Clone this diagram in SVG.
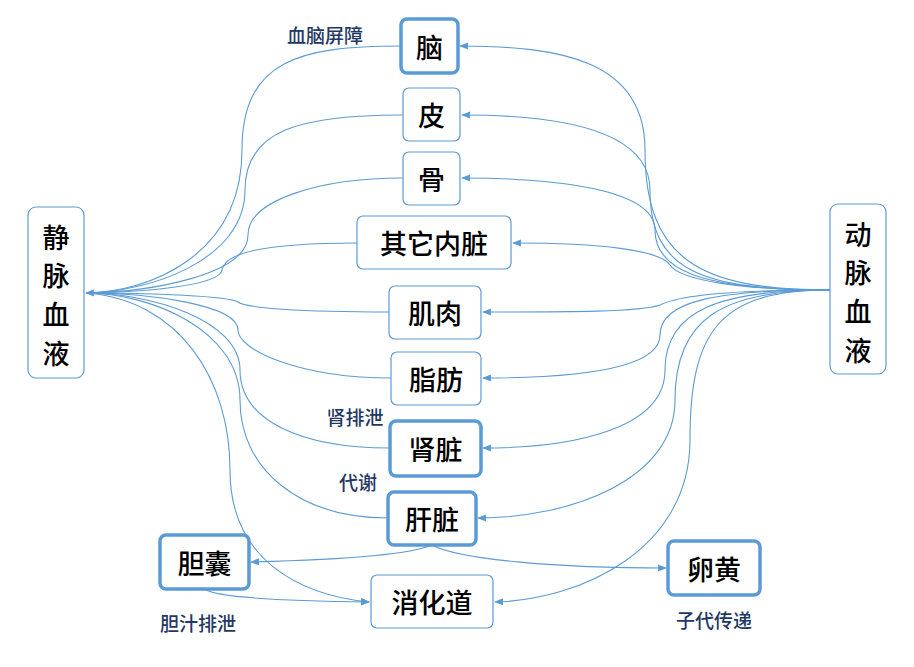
<svg xmlns="http://www.w3.org/2000/svg" width="914" height="667" viewBox="0 0 914 667">
<style>
.n rect{fill:#fff;stroke:#5b9bd5;stroke-width:1.2}
.t rect{stroke-width:3.5}
.n text{font-family:"Noto Sans CJK SC","Liberation Sans",sans-serif;font-size:27px;font-weight:500;fill:#000;text-anchor:middle;dominant-baseline:central}
.l{font-family:"Noto Sans CJK SC","Liberation Sans",sans-serif;font-size:19px;font-weight:500;fill:#1f3864;text-anchor:middle;dominant-baseline:central}
#c path{fill:none;stroke:#5b9bd5;stroke-width:1.1}
</style>
<defs><marker id="a" viewBox="0 0 10 10" refX="9" refY="5" markerWidth="8" markerHeight="8" orient="auto"><path d="M0,1L10,5L0,9z" fill="#5b9bd5"/></marker></defs>
<g id="c">
<path d="M401,46 C300,46 242,60 242,150 C242,255 150,292 86,293"/>
<path d="M403,115 C300,115 245,130 245,190 C245,260 150,292 86,293"/>
<path d="M403,178 C320,178 248,200 248,235 C248,275 150,292 86,293"/>
<path d="M357,243 C280,243 225,250 222,270 C220,285 150,292 86,293" marker-end="url(#a)"/>
<path d="M389,312 C300,312 245,308 238,302 C230,296 150,293 86,293"/>
<path d="M391,378 C300,378 238,350 238,330 C238,305 150,293 86,293"/>
<path d="M390,448 C300,448 240,420 240,370 C240,320 150,293 86,293"/>
<path d="M388,518 C300,518 240,470 240,400 C240,330 150,293 86,293"/>
<path d="M86,293 C180,300 230,380 230,470 C230,560 300,595 369,602" marker-end="url(#a)"/>
<path d="M830,290 C700,290 645,260 645,150 C645,60 560,46 460,46" marker-end="url(#a)"/>
<path d="M830,290 C700,290 650,270 650,190 C650,130 560,115 462,115" marker-end="url(#a)"/>
<path d="M830,290 C700,290 655,270 655,230 C655,190 560,178 462,178" marker-end="url(#a)"/>
<path d="M830,290 C740,290 680,280 670,265 C660,250 600,243 513,243" marker-end="url(#a)"/>
<path d="M830,290 C740,290 680,295 660,305 C640,312 570,312 483,312" marker-end="url(#a)"/>
<path d="M830,290 C720,290 660,300 660,335 C660,370 570,378 483,378" marker-end="url(#a)"/>
<path d="M830,290 C720,290 665,310 665,370 C665,430 570,448 483,448" marker-end="url(#a)"/>
<path d="M830,290 C720,290 675,320 675,400 C675,480 570,518 478,518" marker-end="url(#a)"/>
<path d="M830,290 C720,290 690,330 690,440 C690,550 580,600 495,602" marker-end="url(#a)"/>
<path d="M432,545 C410,555 330,560 251,562" marker-end="url(#a)"/>
<path d="M432,545 C460,560 560,568 666,568" marker-end="url(#a)"/>
<path d="M205,589 C215,598 290,601 369,602" marker-end="url(#a)"/>
</g>
<g id="jm" class="n"><rect x="28" y="207" width="56" height="171" rx="8"/><text x="56" y="236">静</text><text x="56" y="274">脉</text><text x="56" y="313">血</text><text x="56" y="352">液</text></g>
<g id="dm" class="n"><rect x="830" y="204" width="56" height="170" rx="8"/><text x="858" y="233">动</text><text x="858" y="271">脉</text><text x="858" y="310">血</text><text x="858" y="349">液</text></g>
<g id="nao" class="n t"><rect x="401" y="19" width="57" height="54" rx="6"/><text x="429.5" y="46">脑</text></g>
<g id="pi" class="n"><rect x="403" y="88" width="57" height="53" rx="6"/><text x="431.5" y="114.5">皮</text></g>
<g id="gu" class="n"><rect x="403" y="152" width="57" height="53" rx="6"/><text x="431.5" y="178.5">骨</text></g>
<g id="qt" class="n"><rect x="357" y="216" width="154" height="53" rx="6"/><text x="434" y="242.5">其它内脏</text></g>
<g id="jr" class="n"><rect x="389" y="286" width="92" height="53" rx="6"/><text x="435" y="312.5">肌肉</text></g>
<g id="zf" class="n"><rect x="391" y="352" width="90" height="53" rx="6"/><text x="436" y="378.5">脂肪</text></g>
<g id="sz" class="n t"><rect x="390" y="421" width="91" height="55" rx="6"/><text x="435.5" y="448.5">肾脏</text></g>
<g id="gz" class="n t"><rect x="388" y="492" width="88" height="53" rx="6"/><text x="432" y="518.5">肝脏</text></g>
<g id="dn" class="n t"><rect x="160" y="535" width="89" height="54" rx="6"/><text x="204.5" y="562">胆囊</text></g>
<g id="xhd" class="n"><rect x="371" y="575" width="122" height="53" rx="6"/><text x="432" y="601.5">消化道</text></g>
<g id="lh" class="n t"><rect x="668" y="541" width="92" height="54" rx="6"/><text x="714" y="568">卵黄</text></g>
<text class="l" x="325" y="34">血脑屏障</text>
<text class="l" x="355" y="416">肾排泄</text>
<text class="l" x="358" y="481">代谢</text>
<text class="l" x="198" y="622">胆汁排泄</text>
<text class="l" x="714" y="619">子代传递</text>
</svg>
